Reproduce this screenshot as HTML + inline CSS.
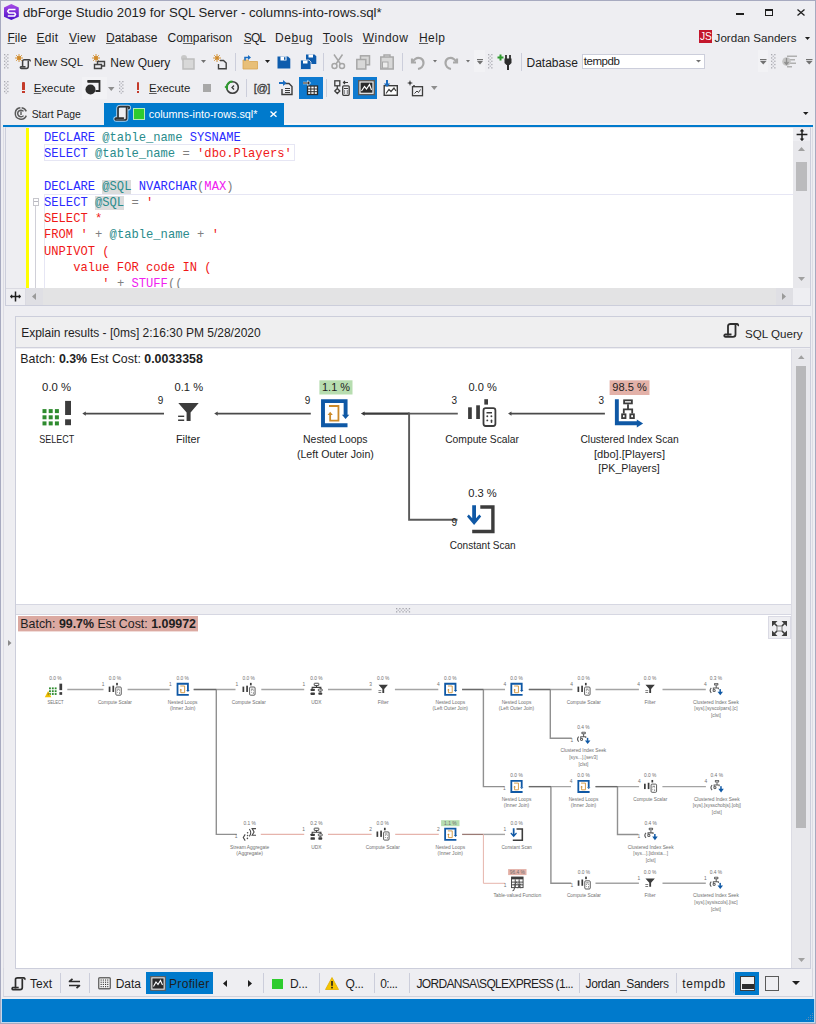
<!DOCTYPE html>
<html><head><meta charset="utf-8">
<style>
*{box-sizing:border-box}
html,body{margin:0;padding:0}
body{width:816px;height:1024px;background:#EEEEF2;position:relative;overflow:hidden;font-family:"Liberation Sans",sans-serif;color:#1E1E1E}
.a{position:absolute}
.t{position:absolute;white-space:pre;line-height:1}
.m{font-family:"Liberation Mono",monospace}
u{text-decoration:underline;text-decoration-color:#5A5A5A;text-underline-offset:0.5px;text-decoration-thickness:1px}
svg{position:absolute;overflow:visible}
.kw{color:#2B2BFF}.vr{color:#2A8C8C}.st{color:#F01818}.op{color:#808080}.fn{color:#F020F0}
.hl{background:#DCDCDC}
.sep{position:absolute;width:1px;background:#CCCEDB}
.grip{position:absolute;width:4px;background:repeating-conic-gradient(#C6C6CE 0 25%,transparent 0 50%) 0 0/2px 2px}
</style></head>
<body>

<!-- TITLE BAR -->
<svg style="left:4px;top:4px" width="16" height="17" viewBox="0 0 16 17">
<defs><linearGradient id="lg" x1="0" y1="0" x2="0" y2="1"><stop offset="0" stop-color="#A94BE6"/><stop offset="1" stop-color="#4A10C8"/></linearGradient></defs>
<path d="M7.3 0 L14.8 3.4 L14.8 12.7 L7.3 16.1 L0 12.7 L0 3.4 Z" fill="url(#lg)"/>
<path d="M11.5 5.5 H5 L3.8 7.3 L5 9 H10.6 L11.5 10.4 L10.6 12 H3.8" fill="none" stroke="#fff" stroke-width="1.6"/>
</svg>
<div class="t" style="left:23px;top:5.8px;font-size:13.2px;color:#1E1E1E">dbForge Studio 2019 for SQL Server - columns-into-rows.sql*</div>
<div class="a" style="left:736px;top:12.5px;width:7.5px;height:2px;background:#1E1E1E"></div>
<div class="a" style="left:765px;top:9px;width:8px;height:7px;border:1px solid #1E1E1E;border-top-width:2px"></div>
<svg style="left:796.5px;top:8.5px" width="8" height="7"><path d="M0.5 0.5 L7.5 6.5 M7.5 0.5 L0.5 6.5" stroke="#1E1E1E" stroke-width="1.3"/></svg>

<!-- MENU -->
<div class="t" style="top:31.7px;font-size:12px;left:0"><span class="a" style="left:7.5px"><u>F</u>ile</span><span class="a" style="left:36.5px;letter-spacing:0.33px"><u>E</u>dit</span><span class="a" style="left:69px;letter-spacing:0.23px"><u>V</u>iew</span><span class="a" style="left:106px"><u>D</u>atabase</span><span class="a" style="left:167.5px">Co<u>m</u>parison</span><span class="a" style="left:243.8px;letter-spacing:-0.9px"><u>S</u>QL</span><span class="a" style="left:275px;letter-spacing:0.57px">De<u>b</u>ug</span><span class="a" style="left:322.8px;letter-spacing:0.5px"><u>T</u>ools</span><span class="a" style="left:362.8px;letter-spacing:0.48px"><u>W</u>indow</span><span class="a" style="left:419px;letter-spacing:0.43px"><u>H</u>elp</span></div>
<div class="a" style="left:698.5px;top:30px;width:13px;height:13px;background:#C4172C"></div>
<div class="t" style="left:700px;top:31.6px;font-size:10.2px;color:#fff;letter-spacing:-0.1px">JS</div>
<div class="t" style="left:714.6px;top:31.8px;font-size:11.6px">Jordan Sanders</div>
<svg style="left:804.5px;top:36.5px" width="5" height="3"><path d="M0 0H5L2.5 3Z" fill="#1E1E1E"/></svg>

<!-- TOOLBARS placeholder -->
<!-- toolbar row 1 -->
<svg style="left:4.0px;top:54.0px" width="5" height="15.0"><rect x="0" y="0.0" width="1.3" height="1.3" fill="#A9A9B0"/><rect x="3.2" y="0.0" width="1.3" height="1.3" fill="#A9A9B0"/><rect x="1.6" y="1.6" width="1.3" height="1.3" fill="#B8B8C0"/><rect x="0" y="3.3" width="1.3" height="1.3" fill="#A9A9B0"/><rect x="3.2" y="3.3" width="1.3" height="1.3" fill="#A9A9B0"/><rect x="1.6" y="4.9" width="1.3" height="1.3" fill="#B8B8C0"/><rect x="0" y="6.6" width="1.3" height="1.3" fill="#A9A9B0"/><rect x="3.2" y="6.6" width="1.3" height="1.3" fill="#A9A9B0"/><rect x="1.6" y="8.2" width="1.3" height="1.3" fill="#B8B8C0"/><rect x="0" y="9.9" width="1.3" height="1.3" fill="#A9A9B0"/><rect x="3.2" y="9.9" width="1.3" height="1.3" fill="#A9A9B0"/><rect x="1.6" y="11.5" width="1.3" height="1.3" fill="#B8B8C0"/><rect x="0" y="13.2" width="1.3" height="1.3" fill="#A9A9B0"/><rect x="3.2" y="13.2" width="1.3" height="1.3" fill="#A9A9B0"/></svg>
<svg style="left:15px;top:54px" width="17" height="16" viewBox="0 0 17 16">
<g fill="#D08A2A"><circle cx="4" cy="4" r="2"/><path d="M4 0V8M0 4H8M1.2 1.2L6.8 6.8M6.8 1.2L1.2 6.8" stroke="#D08A2A" stroke-width="0.9"/></g>
<path d="M7.6 13V7.6C7.6 6.4 8.2 5.8 9.4 5.8H14.2C15 5.8 15.4 6.6 15 7.4" fill="none" stroke="#424242" stroke-width="1.5"/><path d="M13.3 6.6V12.6C13.3 13.8 12.6 14.4 11.4 14.4H6.3C5.2 14.4 5 13.1 6 12.7H10.5" fill="none" stroke="#424242" stroke-width="1.5"/>
</svg>
<div class="t" style="left:34px;top:57.4px;font-size:11.5px">New SQL</div>
<svg style="left:92px;top:54px" width="14" height="16" viewBox="0 0 14 16">
<g><circle cx="4" cy="4" r="2" fill="#D08A2A"/><path d="M4 0V8M0 4H8M1.2 1.2L6.8 6.8M6.8 1.2L1.2 6.8" stroke="#D08A2A" stroke-width="0.9"/></g>
<path d="M2.5 10.5H9.5V14.5H2.5ZM5.5 10.5V7.5H12.5V12H9.5" fill="none" stroke="#424242" stroke-width="1.4"/>
</svg>
<div class="t" style="left:110.3px;top:57.4px;font-size:12px">New Query</div>
<svg style="left:179px;top:54px" width="17" height="16" viewBox="0 0 17 16">
<circle cx="5" cy="4" r="3" fill="#C8C8C8"/><rect x="4" y="5" width="11" height="10" fill="#D8D8D8" stroke="#BDBDBD" stroke-width="1.5"/>
</svg>
<svg style="left:201px;top:60px" width="5" height="3"><path d="M0 0H5L2.5 3Z" fill="#717171"/></svg>
<svg style="left:213px;top:54px" width="15" height="16" viewBox="0 0 15 16">
<circle cx="4" cy="4" r="1.8" fill="#D08A2A"/><path d="M4 0V8M0 4H8M1.2 1.2L6.8 6.8M6.8 1.2L1.2 6.8" stroke="#D08A2A" stroke-width="0.9"/>
<path d="M7 6.5H10.5L13.2 9V14.8H5.5V10" fill="none" stroke="#424242" stroke-width="1.4"/>
</svg>
<div class="sep" style="left:235px;top:53px;height:18px"></div>
<svg style="left:242px;top:54px" width="17" height="16" viewBox="0 0 17 16">
<path d="M1 6H6L7.5 7.5H15.5V15H1Z" fill="#E8BF78" stroke="#D8A450" stroke-width="0.8"/>
<path d="M3 6.5V3.5H7" fill="none" stroke="#1B6DC1" stroke-width="1.6"/><path d="M6 1L9 3.5L6 6Z" fill="#1B6DC1"/>
</svg>
<svg style="left:265px;top:60px" width="5" height="3"><path d="M0 0H5L2.5 3Z" fill="#1E1E1E"/></svg>
<svg style="left:277px;top:56px" width="14" height="13" viewBox="0 0 14 13">
<path d="M0.5 0.5H11L13.3 2.8V12.5H0.5Z" fill="#0E5CAD"/><rect x="3.5" y="0.5" width="6" height="4" fill="#fff"/><rect x="7" y="1.2" width="1.5" height="2.6" fill="#0E5CAD"/>
</svg>
<svg style="left:300px;top:54px" width="17" height="16" viewBox="0 0 17 16">
<path d="M6 0.5H14.5L16.3 2.3V10H6Z" fill="#0E5CAD"/><rect x="8.5" y="0.5" width="4.5" height="3" fill="#fff"/>
<path d="M0.5 6H9L11 8V15.5H0.5Z" fill="#0E5CAD" stroke="#EEEEF2" stroke-width="0.8"/><rect x="3" y="6.5" width="4.5" height="3" fill="#fff"/>
</svg>
<div class="sep" style="left:323px;top:53px;height:18px"></div>
<svg style="left:331px;top:54px" width="15" height="16" viewBox="0 0 15 16">
<g fill="none" stroke="#A6A6A6" stroke-width="1.5"><circle cx="3.5" cy="12" r="2.5"/><circle cx="11" cy="12" r="2.5"/><path d="M5 10L11.5 0.5M9.5 10L3 0.5"/></g>
</svg>
<svg style="left:356px;top:55px" width="15" height="15" viewBox="0 0 15 15">
<rect x="4.5" y="0.8" width="9" height="9" fill="#D8D8D8" stroke="#A8A8A8" stroke-width="1.5"/><rect x="0.8" y="4.5" width="9" height="9.5" fill="#D8D8D8" stroke="#A8A8A8" stroke-width="1.5"/>
</svg>
<svg style="left:380px;top:54px" width="14" height="16" viewBox="0 0 14 16">
<path d="M4 3V1H10V3" fill="none" stroke="#A8A8A8" stroke-width="1.4"/><rect x="0.8" y="3" width="12.4" height="12" fill="#D8D8D8" stroke="#A8A8A8" stroke-width="1.5"/><rect x="2.5" y="8" width="5.5" height="6" fill="#ECECEC" stroke="#A8A8A8"/>
</svg>
<div class="sep" style="left:402px;top:53px;height:18px"></div>
<svg style="left:410px;top:55px" width="15" height="15" viewBox="0 0 15 15">
<path d="M2 3.5V7.5H6M2 7L5.5 3.8C8.5 1.5 13.5 3.5 13.5 8C13.5 11 11 13.5 8 14" fill="none" stroke="#A8A8A8" stroke-width="2.2"/>
</svg>
<svg style="left:432.5px;top:60px" width="4" height="3"><path d="M0 0H4L2 2.5Z" fill="#717171"/></svg>
<svg style="left:444px;top:55px" width="15" height="15" viewBox="0 0 15 15">
<path d="M13 3.5V7.5H9M13 7L9.5 3.8C6.5 1.5 1.5 3.5 1.5 8C1.5 11 4 13.5 7 14" fill="none" stroke="#A8A8A8" stroke-width="2.2"/>
</svg>
<svg style="left:466px;top:60px" width="4" height="3"><path d="M0 0H4L2 2.5Z" fill="#717171"/></svg>
<div class="a" style="left:474px;top:50px;width:11px;height:22px;background:#F2F2F5"></div>
<svg style="left:476.5px;top:58.5px" width="6" height="6"><rect x="0" y="0" width="6" height="1.2" fill="#717171"/><path d="M0 2H6L3 5.5Z" fill="#717171"/></svg>
<svg style="left:487.5px;top:54.0px" width="5" height="15.0"><rect x="0" y="0.0" width="1.3" height="1.3" fill="#A9A9B0"/><rect x="3.2" y="0.0" width="1.3" height="1.3" fill="#A9A9B0"/><rect x="1.6" y="1.6" width="1.3" height="1.3" fill="#B8B8C0"/><rect x="0" y="3.3" width="1.3" height="1.3" fill="#A9A9B0"/><rect x="3.2" y="3.3" width="1.3" height="1.3" fill="#A9A9B0"/><rect x="1.6" y="4.9" width="1.3" height="1.3" fill="#B8B8C0"/><rect x="0" y="6.6" width="1.3" height="1.3" fill="#A9A9B0"/><rect x="3.2" y="6.6" width="1.3" height="1.3" fill="#A9A9B0"/><rect x="1.6" y="8.2" width="1.3" height="1.3" fill="#B8B8C0"/><rect x="0" y="9.9" width="1.3" height="1.3" fill="#A9A9B0"/><rect x="3.2" y="9.9" width="1.3" height="1.3" fill="#A9A9B0"/><rect x="1.6" y="11.5" width="1.3" height="1.3" fill="#B8B8C0"/><rect x="0" y="13.2" width="1.3" height="1.3" fill="#A9A9B0"/><rect x="3.2" y="13.2" width="1.3" height="1.3" fill="#A9A9B0"/></svg>
<svg style="left:498px;top:54px" width="17" height="16" viewBox="0 0 17 16">
<path d="M2.5 0.5V6.5M-0.5 3.5H5.5" stroke="#2F9A2F" stroke-width="2"/>
<path d="M8 1V5M12 1V5" stroke="#2D2D2D" stroke-width="1.8"/><path d="M6.5 4.5H13.5V9L11.5 11H8.5L6.5 9Z" fill="#2D2D2D"/><path d="M10 10.5V16" stroke="#2D2D2D" stroke-width="2"/>
</svg>
<div class="sep" style="left:520.5px;top:53px;height:18px"></div>
<div class="t" style="left:526.5px;top:57.2px;font-size:12px">Database</div>
<div class="a" style="left:582px;top:54px;width:123px;height:15px;background:#fff;border:1px solid #CCCEDB"></div>
<div class="t" style="left:583.8px;top:55.6px;font-size:11.5px;letter-spacing:-0.45px">tempdb</div>
<svg style="left:696px;top:59.7px" width="5" height="3"><path d="M0 0H5L2.5 2.5Z" fill="#717171"/></svg>
<div class="a" style="left:757.5px;top:50px;width:10.5px;height:22px;background:#F2F2F5"></div>
<svg style="left:760px;top:59px" width="6.5" height="6"><rect x="0" y="0" width="6.5" height="1.2" fill="#717171"/><path d="M0 2H6.5L3.25 5.5Z" fill="#717171"/></svg>
<svg style="left:771.0px;top:54.0px" width="5" height="15.0"><rect x="0" y="0.0" width="1.3" height="1.3" fill="#A9A9B0"/><rect x="3.2" y="0.0" width="1.3" height="1.3" fill="#A9A9B0"/><rect x="1.6" y="1.6" width="1.3" height="1.3" fill="#B8B8C0"/><rect x="0" y="3.3" width="1.3" height="1.3" fill="#A9A9B0"/><rect x="3.2" y="3.3" width="1.3" height="1.3" fill="#A9A9B0"/><rect x="1.6" y="4.9" width="1.3" height="1.3" fill="#B8B8C0"/><rect x="0" y="6.6" width="1.3" height="1.3" fill="#A9A9B0"/><rect x="3.2" y="6.6" width="1.3" height="1.3" fill="#A9A9B0"/><rect x="1.6" y="8.2" width="1.3" height="1.3" fill="#B8B8C0"/><rect x="0" y="9.9" width="1.3" height="1.3" fill="#A9A9B0"/><rect x="3.2" y="9.9" width="1.3" height="1.3" fill="#A9A9B0"/><rect x="1.6" y="11.5" width="1.3" height="1.3" fill="#B8B8C0"/><rect x="0" y="13.2" width="1.3" height="1.3" fill="#A9A9B0"/><rect x="3.2" y="13.2" width="1.3" height="1.3" fill="#A9A9B0"/></svg>
<svg style="left:782px;top:55px" width="16" height="14" viewBox="0 0 16 14">
<g fill="#B0B0B0"><rect x="5" y="0.5" width="10" height="1.5"/><rect x="8" y="4" width="5" height="1.5"/><rect x="8" y="7.5" width="6" height="1.5"/><rect x="5" y="11" width="5" height="1.5"/><circle cx="4.5" cy="6.5" r="4.3" fill="#C4C4C4"/></g><path d="M4.5 3V9M2.5 7L4.5 9.5L6.5 7" stroke="#8E8E8E" stroke-width="1.3" fill="none"/>
</svg>
<svg style="left:805.5px;top:59px" width="6.5" height="6"><rect x="0" y="0" width="6.5" height="1.2" fill="#717171"/><path d="M0 2H6.5L3.25 5.5Z" fill="#717171"/></svg>

<!-- toolbar row 2 -->
<svg style="left:4.0px;top:80.5px" width="5" height="14.0"><rect x="0" y="0.0" width="1.3" height="1.3" fill="#A9A9B0"/><rect x="3.2" y="0.0" width="1.3" height="1.3" fill="#A9A9B0"/><rect x="1.6" y="1.6" width="1.3" height="1.3" fill="#B8B8C0"/><rect x="0" y="3.3" width="1.3" height="1.3" fill="#A9A9B0"/><rect x="3.2" y="3.3" width="1.3" height="1.3" fill="#A9A9B0"/><rect x="1.6" y="4.9" width="1.3" height="1.3" fill="#B8B8C0"/><rect x="0" y="6.6" width="1.3" height="1.3" fill="#A9A9B0"/><rect x="3.2" y="6.6" width="1.3" height="1.3" fill="#A9A9B0"/><rect x="1.6" y="8.2" width="1.3" height="1.3" fill="#B8B8C0"/><rect x="0" y="9.9" width="1.3" height="1.3" fill="#A9A9B0"/><rect x="3.2" y="9.9" width="1.3" height="1.3" fill="#A9A9B0"/><rect x="1.6" y="11.5" width="1.3" height="1.3" fill="#B8B8C0"/></svg>
<div class="a" style="left:22px;top:82.2px;width:2.5px;height:7.5px;background:#C43A2A;border-radius:1px 1px 0.5px 0.5px"></div>
<div class="a" style="left:22px;top:90.8px;width:2.5px;height:2.2px;background:#C43A2A"></div>
<div class="t" style="left:33.8px;top:83px;font-size:11.4px"><u>E</u>xecute</div>
<div class="a" style="left:82px;top:76.5px;width:25px;height:22px;background:#F2F2F5"></div>
<svg style="left:85px;top:80px" width="16" height="15" viewBox="0 0 16 15">
<path d="M2.5 1H14.5V11H10.5" fill="none" stroke="#2D2D2D" stroke-width="1.8"/><rect x="2.5" y="0.5" width="12" height="2.3" fill="#2D2D2D"/><circle cx="5.5" cy="9.5" r="5" fill="#2D2D2D"/>
</svg>
<svg style="left:108px;top:86.5px" width="7" height="5"><path d="M0 0H6.5L3.25 4Z" fill="#8E8E8E"/></svg>
<svg style="left:119.0px;top:80.5px" width="5" height="14.0"><rect x="0" y="0.0" width="1.3" height="1.3" fill="#A9A9B0"/><rect x="3.2" y="0.0" width="1.3" height="1.3" fill="#A9A9B0"/><rect x="1.6" y="1.6" width="1.3" height="1.3" fill="#B8B8C0"/><rect x="0" y="3.3" width="1.3" height="1.3" fill="#A9A9B0"/><rect x="3.2" y="3.3" width="1.3" height="1.3" fill="#A9A9B0"/><rect x="1.6" y="4.9" width="1.3" height="1.3" fill="#B8B8C0"/><rect x="0" y="6.6" width="1.3" height="1.3" fill="#A9A9B0"/><rect x="3.2" y="6.6" width="1.3" height="1.3" fill="#A9A9B0"/><rect x="1.6" y="8.2" width="1.3" height="1.3" fill="#B8B8C0"/><rect x="0" y="9.9" width="1.3" height="1.3" fill="#A9A9B0"/><rect x="3.2" y="9.9" width="1.3" height="1.3" fill="#A9A9B0"/><rect x="1.6" y="11.5" width="1.3" height="1.3" fill="#B8B8C0"/></svg>
<div class="a" style="left:136.5px;top:82.2px;width:2.5px;height:7.5px;background:#C43A2A;border-radius:1px 1px 0.5px 0.5px"></div>
<div class="a" style="left:136.5px;top:90.8px;width:2.5px;height:2.2px;background:#C43A2A"></div>
<div class="t" style="left:149.1px;top:83px;font-size:11.4px"><u>E</u>xecute</div>
<div class="a" style="left:203.3px;top:83.8px;width:8px;height:8.4px;background:#A8A8A8"></div>
<svg style="left:223.5px;top:80px" width="16" height="15" viewBox="0 0 16 15">
<circle cx="8.5" cy="7.5" r="5.8" fill="none" stroke="#3C3C3C" stroke-width="1.6"/><path d="M1 6.5H5.5" stroke="#EEEEF2" stroke-width="3"/>
<path d="M0.5 7L4 3.5L4 10.5Z" fill="#2F9A2F"/><path d="M3 7C3 3 6 1.5 8.5 1.5" fill="none" stroke="#2F9A2F" stroke-width="2"/><path d="M10 5.5L8 7.5L10 9.5" fill="none" stroke="#3C3C3C" stroke-width="1.3"/>
</svg>
<div class="sep" style="left:246px;top:79px;height:18px"></div>
<div class="t" style="left:253.8px;top:82.6px;font-size:11.2px;color:#3A3A3A;letter-spacing:-0.5px;-webkit-text-stroke:0.3px #3A3A3A">[@]</div>
<svg style="left:279px;top:80px" width="14" height="15" viewBox="0 0 14 15">
<path d="M4 3.5H10L13 6.5V14.5H3V9" fill="none" stroke="#3C3C3C" stroke-width="1.4"/><path d="M6 8.5H11M6 10.5H11M6 12.5H11" stroke="#3C3C3C" stroke-width="1"/>
<path d="M0 3H4.5" stroke="#1B6DC1" stroke-width="2"/><path d="M4 0L7.5 3L4 6Z" fill="#1B6DC1"/>
</svg>
<div class="a" style="left:298.7px;top:76.7px;width:24.3px;height:22px;background:#0E7AD0"></div>
<svg style="left:303px;top:80px" width="16" height="16" viewBox="0 0 16 16">
<rect x="4.5" y="6" width="10" height="8.5" fill="#fff" stroke="#2D2D2D" stroke-width="1.3"/><path d="M4.5 9H14.5M4.5 11.7H14.5M7.8 6V14.5M11.2 6V14.5" stroke="#2D2D2D" stroke-width="1"/>
<path d="M0 3H5" stroke="#fff" stroke-width="2.4"/><path d="M4.5 0L8 3L4.5 6Z" fill="#fff"/><path d="M0 3H5" stroke="#2D2D2D" stroke-width="1.2"/><path d="M5 1L7 3L5 5Z" fill="#2D2D2D"/>
</svg>
<div class="sep" style="left:326.3px;top:79px;height:18px"></div>
<svg style="left:333.5px;top:80px" width="16" height="16" viewBox="0 0 16 16">
<rect x="0.8" y="0.8" width="5" height="5" fill="none" stroke="#3C3C3C" stroke-width="1.3"/><path d="M3.3 6V8.5M0.8 11L3.3 8.5L5.8 11L3.3 13.5Z" fill="none" stroke="#3C3C3C" stroke-width="1.3"/>
<rect x="8.7" y="5.8" width="6.5" height="9.5" rx="1" fill="none" stroke="#3C3C3C" stroke-width="1.3"/><path d="M10 8.5H14M10 11H11M12.8 11H14M10 13H11M12.8 13H14" stroke="#3C3C3C"/><path d="M14 2.5H9.5M11 1L9.5 2.5L11 4" fill="none" stroke="#3C3C3C" stroke-width="1.2"/>
</svg>
<div class="a" style="left:353.3px;top:76.7px;width:24.2px;height:22px;background:#0E7AD0"></div>
<svg style="left:357.5px;top:80.2px" width="17" height="15.3" viewBox="0 0 17 15.3">
<rect x="0.7" y="0.7" width="15.6" height="13.9" fill="#F0F0F0" stroke="#5A5A5A" stroke-width="1.4"/><rect x="2.6" y="2.6" width="11.8" height="10.1" fill="#2A2A2A"/><path d="M3.5 11L6.5 6.5L8.5 9L11.5 4.5L13.5 10" fill="none" stroke="#fff" stroke-width="1.2"/>
</svg>
<svg style="left:383px;top:80px" width="15" height="16" viewBox="0 0 15 16">
<rect x="1.2" y="5.7" width="13.1" height="9.6" fill="#fff" stroke="#3C3C3C" stroke-width="1.4"/><path d="M3 13.5L6 9.5L8 11.5L11 8L13 11" fill="none" stroke="#3C3C3C" stroke-width="1.2"/>
<path d="M4 0V5" stroke="#1B6DC1" stroke-width="2"/><path d="M0.8 3.5L4 7L7.2 3.5Z" fill="#1B6DC1"/>
</svg>
<svg style="left:406.5px;top:80px" width="16" height="16" viewBox="0 0 16 16">
<path d="M3 0L3.8 2.2L6 3L3.8 3.8L3 6L2.2 3.8L0 3L2.2 2.2Z" fill="#3C3C3C"/><circle cx="7" cy="6" r="1" fill="#3C3C3C"/>
<rect x="5.5" y="6.7" width="10" height="9" fill="none" stroke="#3C3C3C" stroke-width="1.3"/><path d="M7.5 13.5L10 11L11.5 12.5L13.5 9.5" fill="none" stroke="#3C3C3C" stroke-width="1"/>
</svg>
<svg style="left:430.5px;top:85.5px" width="7" height="5"><path d="M0 0H6.5L3.25 4Z" fill="#8E8E8E"/></svg>


<!-- TABS -->
<svg style="left:14px;top:107px" width="14" height="13" viewBox="0 0 14 13"><path d="M7.60 0.83A5.7 5.7 0 0 1 12.28 4.36M12.28 8.64A5.7 5.7 0 1 1 6.40 0.83M9.53 8.62A3.3 3.3 0 1 1 9.53 4.38" fill="none" stroke="#5A5A5A" stroke-width="1.5"/><path d="M7 8.0V4.3" stroke="#5A5A5A" stroke-width="1.4"/></svg>
<div class="t" style="left:31.7px;top:109.5px;font-size:10.4px">Start Page</div>
<div class="a" style="left:104.4px;top:103px;width:179.6px;height:23px;background:#007ACC"></div>
<svg style="left:114px;top:105px" width="17" height="16" viewBox="0 0 17 16">
<g fill="none" stroke-linecap="round" stroke-linejoin="round">
<path d="M4 13V3.6C4 2.2 5 1.6 6.4 1.6H14C15.4 1.6 15.8 3 14.8 3.6M12.6 2.6V13.2C12.6 14.4 11.8 15 10.4 15H2.2C1 15 0.7 13.4 2 13.1H9.4" stroke="#A8D0F0" stroke-width="3.6"/>
<path d="M5 3H12V14H5Z" fill="#EEEEF2" stroke="none"/>
<path d="M4 13V3.6C4 2.2 5 1.6 6.4 1.6H14C15.4 1.6 15.8 3 14.8 3.6M12.6 2.6V13.2C12.6 14.4 11.8 15 10.4 15H2.2C1 15 0.7 13.4 2 13.1H9.4" stroke="#333" stroke-width="1.7"/>
</g></svg>
<div class="a" style="left:133.1px;top:108px;width:11.8px;height:11.9px;background:#2ECC2E;border:1px solid #B8ECB8"></div>
<div class="t" style="left:148.8px;top:109px;font-size:10.8px;color:#fff">columns-into-rows.sql*</div>
<svg style="left:269.5px;top:111px" width="7" height="6.2"><path d="M0.5 0.5L6.5 5.7M6.5 0.5L0.5 5.7" stroke="#fff" stroke-width="1.4"/></svg>
<svg style="left:802.5px;top:112.3px" width="5.5" height="3"><path d="M0 0H5.5L2.75 3Z" fill="#1E1E1E"/></svg>
<div class="a" style="left:3.3px;top:125px;width:809.5px;height:1.6px;background:#007ACC"></div>
<div class="a" style="left:284px;top:123.3px;width:528px;height:1.5px;background:#F4F4F7"></div>


<!-- EDITOR -->
<div class="a" style="left:3px;top:126.6px;width:1px;height:870px;background:#DCDCE4"></div>
<div class="a" style="left:812px;top:126.6px;width:1px;height:870px;background:#DCDCE4"></div>
<div class="a" style="left:5px;top:126.6px;width:806px;height:179.4px;border:1px solid #CCCEDB;border-top:1px solid #E4E4EC;background:#fff"></div>
<div class="a" style="left:6px;top:127.6px;width:20px;height:160.3px;background:#EEEEF2"></div>
<div class="a" style="left:26px;top:127.6px;width:3.3px;height:160.3px;background:#FFFF00"></div>
<!-- fold marker -->
<div class="a" style="left:32.5px;top:198px;width:6.5px;height:7.5px;border:1px solid #C6C6CC;background:#fff"></div>
<div class="a" style="left:34px;top:201.3px;width:3.5px;height:1px;background:#B8B8C0"></div>
<div class="a" style="left:35.2px;top:205.5px;width:1px;height:82.4px;background:#D0D0D8"></div>
<!-- current line boxes -->
<div class="a" style="left:44px;top:144.3px;width:251px;height:17px;border:1px solid #E6E6F4"></div>
<div class="a" style="left:44px;top:193.5px;width:749.3px;height:94.4px;border:1px solid #E6E6F4;border-bottom:none;border-right:none"></div>
<!-- code -->
<div class="t m" style="left:44px;top:129.9px;font-size:12.15px;line-height:16.27px"><span class="kw">DECLARE</span> <span class="vr">@table_name</span> <span class="kw">SYSNAME</span>
<span class="kw">SELECT</span> <span class="vr">@table_name</span> <span class="op">=</span> <span class="st">'dbo.Players'</span>

<span class="kw">DECLARE</span> <span class="vr hl">@SQL</span> <span class="kw">NVARCHAR</span><span class="op">(</span><span class="fn">MAX</span><span class="op">)</span>
<span class="kw">SELECT</span> <span class="vr hl">@SQL</span> <span class="op">=</span> <span class="st">'</span>
<span class="st">SELECT *</span>
<span class="st">FROM '</span> <span class="op">+</span> <span class="vr">@table_name</span> <span class="op">+</span> <span class="st">'</span>
<span class="st">UNPIVOT (</span>
<span class="st">    value FOR code IN (</span>
<span class="st">        '</span> <span class="op">+</span> <span class="fn">STUFF</span><span class="op">((</span></div>
<!-- editor vscroll -->
<div class="a" style="left:793.3px;top:127.6px;width:16.9px;height:160.3px;background:#E8E8EC"></div>
<div class="a" style="left:793.3px;top:127.6px;width:16.9px;height:13px;background:#EEEEF2"></div>
<svg style="left:795.8px;top:128.5px" width="12" height="12" viewBox="0 0 12 12"><path d="M6 0.8V11.2M0.6 5.5H11.4" stroke="#1E1E1E" stroke-width="1.5"/><path d="M4.3 2.2L6 0.3L7.7 2.2ZM4.3 9.8L6 11.7L7.7 9.8Z" fill="#1E1E1E" stroke="#1E1E1E" stroke-width="0.6"/></svg>
<svg style="left:798px;top:147px" width="7" height="4"><path d="M0 4H7L3.5 0Z" fill="#A0A0A0"/></svg>
<div class="a" style="left:796.4px;top:161.8px;width:10.5px;height:29px;background:#BBBBBD"></div>
<svg style="left:798px;top:277px" width="7" height="4"><path d="M0 0H7L3.5 4Z" fill="#A0A0A0"/></svg>
<!-- hscroll -->
<div class="a" style="left:6px;top:287.9px;width:20px;height:17.4px;background:#EEEEF2;border-top:1px solid #DADAE2;border-right:1px solid #DADAE2"></div>
<svg style="left:9.8px;top:291px" width="11" height="11" viewBox="0 0 11 11"><path d="M5.5 0.6V10.4M0.6 5.5H10.4" stroke="#1E1E1E" stroke-width="1.5"/><path d="M2 3.8L0.2 5.5L2 7.2ZM9 3.8L10.8 5.5L9 7.2Z" fill="#1E1E1E" stroke="#1E1E1E" stroke-width="0.6"/></svg>
<div class="a" style="left:26px;top:287.9px;width:767.3px;height:17.4px;background:#DFDFE4"></div>
<div class="a" style="left:43px;top:287.9px;width:733px;height:17.4px;background:#E3E3E4"></div>
<svg style="left:32px;top:293px" width="4" height="7"><path d="M4 0V7L0 3.5Z" fill="#9A9A9A"/></svg>
<svg style="left:782.2px;top:293.2px" width="4" height="7"><path d="M0 0V7L4 3.5Z" fill="#9A9A9A"/></svg>
<div class="a" style="left:793.3px;top:287.9px;width:16.9px;height:17.4px;background:#EEEEF2"></div>

<!-- EXPLAIN -->
<!--EXPLAIN_START-->
<div class="a" style="left:15px;top:316px;width:796px;height:652.5px;border:1px solid #CCCEDB;background:#EEEEF2"></div>
<div class="a" style="left:16px;top:317px;width:794px;height:30.5px;background:#EFEFF0"></div>
<div class="t" style="left:21.2px;top:327.2px;font-size:12px">Explain results - [0ms] 2:16:30 PM 5/28/2020</div>
<svg style="left:723px;top:322.5px" width="17" height="16" viewBox="0 0 17 16"><path d="M5 12.5V3C5 1.5 6 1 7.5 1H14C15 1 15.5 2 15 3" fill="none" stroke="#2D2D2D" stroke-width="1.8"/><path d="M12.5 2V11.5C12.5 13 11.5 13.8 10 13.8H2.5C1 13.8 0.8 12 2 11.5H8.5" fill="none" stroke="#2D2D2D" stroke-width="1.8"/></svg>
<div class="t" style="left:745px;top:327.8px;font-size:11.6px">SQL Query</div>
<div class="a" style="left:16px;top:347.4px;width:794px;height:1px;background:#D0D1DC"></div>
<div class="a" style="left:16px;top:348.5px;width:775px;height:255.5px;background:#fff"></div>
<div class="a" style="left:16px;top:603.5px;width:775px;height:1.2px;background:#D6D7E2"></div>
<div class="a" style="left:16px;top:614px;width:775px;height:1.2px;background:#D6D7E2"></div>
<div class="a" style="left:16px;top:615.2px;width:775px;height:352.8px;background:#fff"></div>
<svg style="left:396px;top:607.6px" width="15" height="5"><rect x="0.0" y="0" width="1.3" height="1.3" fill="#A4A4AC"/><rect x="0.0" y="3.2" width="1.3" height="1.3" fill="#A4A4AC"/><rect x="1.6" y="1.6" width="1.3" height="1.3" fill="#B8B8C0"/><rect x="3.2" y="0" width="1.3" height="1.3" fill="#A4A4AC"/><rect x="3.2" y="3.2" width="1.3" height="1.3" fill="#A4A4AC"/><rect x="4.8" y="1.6" width="1.3" height="1.3" fill="#B8B8C0"/><rect x="6.4" y="0" width="1.3" height="1.3" fill="#A4A4AC"/><rect x="6.4" y="3.2" width="1.3" height="1.3" fill="#A4A4AC"/><rect x="8.0" y="1.6" width="1.3" height="1.3" fill="#B8B8C0"/><rect x="9.6" y="0" width="1.3" height="1.3" fill="#A4A4AC"/><rect x="9.6" y="3.2" width="1.3" height="1.3" fill="#A4A4AC"/><rect x="11.2" y="1.6" width="1.3" height="1.3" fill="#B8B8C0"/><rect x="12.8" y="0" width="1.3" height="1.3" fill="#A4A4AC"/><rect x="12.8" y="3.2" width="1.3" height="1.3" fill="#A4A4AC"/></svg>
<div class="a" style="left:791px;top:348.5px;width:19px;height:619.5px;background:#E8E8EC"></div>
<div class="a" style="left:791px;top:348.5px;width:1.2px;height:619.5px;background:#DCDCE4"></div>
<svg style="left:797.5px;top:354.5px" width="7" height="4"><path d="M0 4H6.5L3.25 0.3Z" fill="#A0A0A0"/></svg>
<div class="a" style="left:796px;top:365.5px;width:10px;height:462.5px;background:#B8B8BA"></div>
<svg style="left:797.5px;top:957.5px" width="7" height="4"><path d="M0 0H7L3.5 4Z" fill="#A0A0A0"/></svg>
<div class="a" style="left:768px;top:616.3px;width:22.7px;height:22.3px;background:#EEEEF2;border:1px solid #DADAE4"></div>
<svg style="left:772px;top:620.5px" width="15" height="15" viewBox="0 0 15 15"><rect x="5" y="5" width="5" height="5" fill="none" stroke="#8A8A8A" stroke-width="1.2"/>
<g fill="#3C3C3C"><path d="M0 0H5.5L0 5.5Z"/><path d="M15 0H9.5L15 5.5Z"/><path d="M0 15H5.5L0 9.5Z"/><path d="M15 15H9.5L15 9.5Z"/></g>
<path d="M1.5 1.5L5 5M13.5 1.5L10 5M1.5 13.5L5 10M13.5 13.5L10 10" stroke="#3C3C3C" stroke-width="1.6"/></svg>
<svg style="left:8px;top:639.5px" width="3.5" height="6"><path d="M0 0V6L3.5 3Z" fill="#8A8A8A"/></svg>
<svg style="left:0;top:0" width="816" height="1024">
<text x="20.3" y="362.8" font-size="12.4" font-family="Liberation Sans" fill="#1E1E1E">Batch: <tspan font-weight="bold">0.3%</tspan> Est Cost: <tspan font-weight="bold">0.0033358</tspan></text>
<path d="M84.8 413.6H164" stroke="#4A4A4A" stroke-width="1.7"/><path d="M82.3 413.6L85.8 411.5V415.70000000000005Z" fill="#4A4A4A"/>
<path d="M216.7 413.6H310.8" stroke="#4A4A4A" stroke-width="1.7"/><path d="M214.2 413.6L217.7 411.5V415.70000000000005Z" fill="#4A4A4A"/>
<path d="M363.4 413.6H409.2" stroke="#3A3A3A" stroke-width="2.2"/><path d="M360.9 413.6L364.6 411.40000000000003V415.8Z" fill="#3A3A3A"/>
<path d="M409.2 413.6H457.8" stroke="#5A5A5A" stroke-width="1.6"/>
<path d="M409.1 412.6V519.7H457.5" fill="none" stroke="#5A5A5A" stroke-width="1.9"/>
<path d="M510.5 413.6H604.9" stroke="#4A4A4A" stroke-width="1.7"/><path d="M508 413.6L511.5 411.5V415.70000000000005Z" fill="#4A4A4A"/>
<text x="157.80" y="403.60" font-size="10" font-family="Liberation Sans" fill="#1E1E1E" text-anchor="start">9</text>
<text x="304.80" y="403.60" font-size="10" font-family="Liberation Sans" fill="#1E1E1E" text-anchor="start">9</text>
<text x="451.60" y="403.60" font-size="10" font-family="Liberation Sans" fill="#1E1E1E" text-anchor="start">3</text>
<text x="451.40" y="526.40" font-size="10" font-family="Liberation Sans" fill="#1E1E1E" text-anchor="start">9</text>
<text x="598.40" y="403.60" font-size="10" font-family="Liberation Sans" fill="#1E1E1E" text-anchor="start">3</text>
<g transform="translate(42,399)"><rect x="0.5" y="10.1" width="4" height="4" fill="#2E8B2E"/><rect x="0.5" y="16.3" width="4" height="4" fill="#2E8B2E"/><rect x="0.5" y="22.4" width="4" height="4" fill="#2E8B2E"/><rect x="6.7" y="10.1" width="4" height="4" fill="#2E8B2E"/><rect x="6.7" y="16.3" width="4" height="4" fill="#2E8B2E"/><rect x="6.7" y="22.4" width="4" height="4" fill="#2E8B2E"/><rect x="12.9" y="10.1" width="4" height="4" fill="#2E8B2E"/><rect x="12.9" y="16.3" width="4" height="4" fill="#2E8B2E"/><rect x="12.9" y="22.4" width="4" height="4" fill="#2E8B2E"/><rect x="23.1" y="1.9" width="5.9" height="14.1" fill="#3C3C3C"/><rect x="23.1" y="20.3" width="5.9" height="5.9" fill="#3C3C3C"/></g>
<g transform="translate(178,399)"><path d="M0.3 4.1H20.7L12.6 13.6V22H8.6V13.6Z" fill="#3C3C3C"/><rect x="0.1" y="16.6" width="6.1" height="1.4" fill="#3C3C3C"/><rect x="0.1" y="20.5" width="6.1" height="1.5" fill="#3C3C3C"/></g>
<g transform="translate(321,399)"><path d="M24.6 16V2.1H2V26.3H26.5" fill="none" stroke="#0F58A5" stroke-width="3.9"/><path d="M20.9 15.8H28.3L24.6 20Z" fill="#0F58A5"/><path d="M9.15 15V21.6H17.45V7H8" fill="none" stroke="#CC8A2A" stroke-width="1.8"/><path d="M6.6 16H11.8L9.2 12.8Z" fill="#CC8A2A"/></g>
<g transform="translate(467,399)"><rect x="1.1" y="8.3" width="3.7" height="11.7" fill="#3C3C3C"/><rect x="9.2" y="6.3" width="3.7" height="13.7" fill="#3C3C3C"/><rect x="17.3" y="0.2" width="3.7" height="5.4" fill="#3C3C3C"/><rect x="16.5" y="9.2" width="11.9" height="17.8" rx="2.2" fill="#fff" stroke="#3C3C3C" stroke-width="1.8"/><rect x="19.5" y="13" width="5.5" height="1.5" fill="#3C3C3C"/><circle cx="20.3" cy="17.3" r="0.95" fill="#3C3C3C"/><circle cx="24.4" cy="17.3" r="0.95" fill="#3C3C3C"/><circle cx="20.3" cy="21.4" r="0.95" fill="#3C3C3C"/><rect x="23.7" y="20.5" width="1.6" height="3.5" rx="0.8" fill="#3C3C3C"/></g>
<g transform="translate(614,399)"><path d="M2.85 0.2V24.3H23.5" fill="none" stroke="#0F58A5" stroke-width="3.9"/><path d="M22.8 20.4V28.4L29.1 24.4Z" fill="#0F58A5"/><rect x="10.1" y="1.3" width="7.8" height="3.1" fill="none" stroke="#3C3C3C" stroke-width="1.8"/><path d="M14 5.3V10.3M9.8 14.4V10.3H18.2V14.4" fill="none" stroke="#3C3C3C" stroke-width="1.8"/><rect x="8.1" y="15.3" width="3.4" height="3.8" fill="none" stroke="#3C3C3C" stroke-width="1.8"/><rect x="16.3" y="15.3" width="3.6" height="3.8" fill="none" stroke="#3C3C3C" stroke-width="1.8"/></g>
<g transform="translate(467,504)"><path d="M13.3 3H25.9V27.45H5.2" fill="none" stroke="#3C3C3C" stroke-width="3.4"/><path d="M5.2 1.3H9V14.2L12.4 10.6L14.2 12.6L7.1 20.9L0 12.6L1.8 10.6L5.2 14.2Z" fill="#0F58A5"/></g>
<rect x="319.4" y="380.3" width="33.1" height="14.2" fill="#B7DDB0"/>
<rect x="609.6" y="380.3" width="39.9" height="14.7" fill="#E3B1A8"/>
<text x="56.60" y="390.80" font-size="10.6" font-family="Liberation Sans" fill="#1E1E1E" text-anchor="middle" textLength="29" lengthAdjust="spacingAndGlyphs">0.0 %</text>
<text x="188.80" y="390.80" font-size="10.6" font-family="Liberation Sans" fill="#1E1E1E" text-anchor="middle" textLength="28.5" lengthAdjust="spacingAndGlyphs">0.1 %</text>
<text x="336.00" y="390.80" font-size="10.6" font-family="Liberation Sans" fill="#1E1E1E" text-anchor="middle" textLength="28" lengthAdjust="spacingAndGlyphs">1.1 %</text>
<text x="482.60" y="390.80" font-size="10.6" font-family="Liberation Sans" fill="#1E1E1E" text-anchor="middle" textLength="28.3" lengthAdjust="spacingAndGlyphs">0.0 %</text>
<text x="629.50" y="390.80" font-size="10.6" font-family="Liberation Sans" fill="#1E1E1E" text-anchor="middle" textLength="34.5" lengthAdjust="spacingAndGlyphs">98.5 %</text>
<text x="482.50" y="497.10" font-size="10.6" font-family="Liberation Sans" fill="#1E1E1E" text-anchor="middle" textLength="28.6" lengthAdjust="spacingAndGlyphs">0.3 %</text>
<text x="56.70" y="443.00" font-size="10.4" font-family="Liberation Sans" fill="#1E1E1E" text-anchor="middle" textLength="35" lengthAdjust="spacingAndGlyphs">SELECT</text>
<text x="188.00" y="443.00" font-size="10.4" font-family="Liberation Sans" fill="#1E1E1E" text-anchor="middle" textLength="24" lengthAdjust="spacingAndGlyphs">Filter</text>
<text x="335.30" y="443.00" font-size="10.4" font-family="Liberation Sans" fill="#1E1E1E" text-anchor="middle" textLength="64.6" lengthAdjust="spacingAndGlyphs">Nested Loops</text>
<text x="335.40" y="458.20" font-size="10.4" font-family="Liberation Sans" fill="#1E1E1E" text-anchor="middle" textLength="77" lengthAdjust="spacingAndGlyphs">(Left Outer Join)</text>
<text x="482.10" y="443.00" font-size="10.4" font-family="Liberation Sans" fill="#1E1E1E" text-anchor="middle" textLength="73.8" lengthAdjust="spacingAndGlyphs">Compute Scalar</text>
<text x="629.60" y="443.00" font-size="10.4" font-family="Liberation Sans" fill="#1E1E1E" text-anchor="middle" textLength="98.3" lengthAdjust="spacingAndGlyphs">Clustered Index Scan</text>
<text x="629.50" y="458.20" font-size="10.4" font-family="Liberation Sans" fill="#1E1E1E" text-anchor="middle" textLength="71" lengthAdjust="spacingAndGlyphs">[dbo].[Players]</text>
<text x="629.00" y="471.50" font-size="10.4" font-family="Liberation Sans" fill="#1E1E1E" text-anchor="middle" textLength="61.3" lengthAdjust="spacingAndGlyphs">[PK_Players]</text>
<text x="482.70" y="548.90" font-size="10.4" font-family="Liberation Sans" fill="#1E1E1E" text-anchor="middle" textLength="66" lengthAdjust="spacingAndGlyphs">Constant Scan</text>
<rect x="18" y="616" width="180" height="15.4" fill="#DBA9A1"/>
<text x="20.3" y="628.2" font-size="12.4" font-family="Liberation Sans" fill="#1E1E1E">Batch: <tspan font-weight="bold">99.7%</tspan> Est Cost: <tspan font-weight="bold">1.09972</tspan></text>
<path d="M67.3 689.5H103.5" fill="none" stroke="#A4A4A4" stroke-width="1.4"/>
<path d="M127.6 689.5H169.7" fill="none" stroke="#A4A4A4" stroke-width="1.4"/>
<path d="M193.7 689.5H235.5" fill="none" stroke="#A4A4A4" stroke-width="1.4"/>
<path d="M261.3 689.5H304.2" fill="none" stroke="#A4A4A4" stroke-width="1.4"/>
<path d="M328 689.5H371.6" fill="none" stroke="#A4A4A4" stroke-width="1.4"/>
<path d="M394.9 689.5H438.3" fill="none" stroke="#A4A4A4" stroke-width="1.4"/>
<path d="M462.1 689.5H505" fill="none" stroke="#A4A4A4" stroke-width="1.4"/>
<path d="M528.8 689.5H572.4" fill="none" stroke="#A4A4A4" stroke-width="1.4"/>
<path d="M595.5 689.5H638.9" fill="none" stroke="#A4A4A4" stroke-width="1.4"/>
<path d="M662.5 689.5H705.8" fill="none" stroke="#A4A4A4" stroke-width="1.4"/>
<path d="M528.8 786.6H571" fill="none" stroke="#A4A4A4" stroke-width="1.4"/>
<path d="M595.5 786.6H639.1" fill="none" stroke="#A4A4A4" stroke-width="1.4"/>
<path d="M662.4 786.6H705.9" fill="none" stroke="#A4A4A4" stroke-width="1.4"/>
<path d="M595.5 883.3H638.9" fill="none" stroke="#A4A4A4" stroke-width="1.4"/>
<path d="M662.5 883.3H705.8" fill="none" stroke="#A4A4A4" stroke-width="1.4"/>
<path d="M483.4 834.4H505" fill="none" stroke="#A4A4A4" stroke-width="1.4"/>
<path d="M216.3 689.5V834.4H236.8" fill="none" stroke="#909090" stroke-width="1.4"/>
<path d="M483.4 689.5V786.6H504.3" fill="none" stroke="#909090" stroke-width="1.4"/>
<path d="M550.3 689.5V738.3H571.7" fill="none" stroke="#909090" stroke-width="1.4"/>
<path d="M550.9 786.6V883.3H571.2" fill="none" stroke="#909090" stroke-width="1.4"/>
<path d="M617.5 786.6V834.5H638.2" fill="none" stroke="#909090" stroke-width="1.4"/>
<path d="M193.7 689.5H216.3" fill="none" stroke="#6A6A6A" stroke-width="1.3"/>
<path d="M462.1 689.5H483.4" fill="none" stroke="#6A6A6A" stroke-width="1.3"/>
<path d="M528.8 689.5H550.3" fill="none" stroke="#6A6A6A" stroke-width="1.3"/>
<path d="M528.8 786.6H550.9" fill="none" stroke="#6A6A6A" stroke-width="1.3"/>
<path d="M595.5 786.6H617.5" fill="none" stroke="#6A6A6A" stroke-width="1.3"/>
<path d="M260.8 834.4H304.2" fill="none" stroke="#E6B4AC" stroke-width="1.1"/>
<path d="M328 834.4H371.6" fill="none" stroke="#E6B4AC" stroke-width="1.1"/>
<path d="M395.2 834.4H438.8" fill="none" stroke="#E6B4AC" stroke-width="1.1"/>
<path d="M462.1 834.4H483.4" fill="none" stroke="#9A7A74" stroke-width="1.3"/>
<path d="M483.4 834.4V883.3H505" fill="none" stroke="#E6B4AC" stroke-width="1.0"/>
<g transform="translate(48.8,682.78) scale(0.46)"><rect x="0.5" y="10.1" width="4" height="4" fill="#2E8B2E"/><rect x="0.5" y="16.3" width="4" height="4" fill="#2E8B2E"/><rect x="0.5" y="22.4" width="4" height="4" fill="#2E8B2E"/><rect x="6.7" y="10.1" width="4" height="4" fill="#2E8B2E"/><rect x="6.7" y="16.3" width="4" height="4" fill="#2E8B2E"/><rect x="6.7" y="22.4" width="4" height="4" fill="#2E8B2E"/><rect x="12.9" y="10.1" width="4" height="4" fill="#2E8B2E"/><rect x="12.9" y="16.3" width="4" height="4" fill="#2E8B2E"/><rect x="12.9" y="22.4" width="4" height="4" fill="#2E8B2E"/><rect x="23.1" y="1.9" width="5.9" height="14.1" fill="#3C3C3C"/><rect x="23.1" y="20.3" width="5.9" height="5.9" fill="#3C3C3C"/></g>
<path d="M44.8 697.184L48.099999999999994 691.084L51.4 697.184Z" fill="#F2C200"/><rect x="47.8" y="692.784" width="0.7" height="2.5" fill="#6A5A20"/>
<text x="55.47" y="680.28" font-size="4.85" font-family="Liberation Sans" fill="#707070" text-anchor="middle">0.0 %</text>
<text x="55.47" y="703.67" font-size="4.85" font-family="Liberation Sans" fill="#707070" text-anchor="middle" textLength="16.1" lengthAdjust="spacingAndGlyphs">SELECT</text>
<g transform="translate(108.2,682.78) scale(0.46)"><rect x="1.1" y="8.3" width="3.7" height="11.7" fill="#3C3C3C"/><rect x="9.2" y="6.3" width="3.7" height="13.7" fill="#3C3C3C"/><rect x="17.3" y="0.2" width="3.7" height="5.4" fill="#3C3C3C"/><rect x="16.5" y="9.2" width="11.9" height="17.8" rx="2.2" fill="#fff" stroke="#3C3C3C" stroke-width="1.8"/><rect x="19.5" y="13" width="5.5" height="1.5" fill="#3C3C3C"/><circle cx="20.3" cy="17.3" r="0.95" fill="#3C3C3C"/><circle cx="24.4" cy="17.3" r="0.95" fill="#3C3C3C"/><circle cx="20.3" cy="21.4" r="0.95" fill="#3C3C3C"/><rect x="23.7" y="20.5" width="1.6" height="3.5" rx="0.8" fill="#3C3C3C"/></g>
<text x="114.94" y="680.28" font-size="4.85" font-family="Liberation Sans" fill="#707070" text-anchor="middle">0.0 %</text>
<text x="114.94" y="703.67" font-size="4.85" font-family="Liberation Sans" fill="#707070" text-anchor="middle" textLength="34" lengthAdjust="spacingAndGlyphs">Compute Scalar</text>
<g transform="translate(176.6,682.78) scale(0.46)"><path d="M24.6 16V2.1H2V26.3H26.5" fill="none" stroke="#0F58A5" stroke-width="3.9"/><path d="M20.9 15.8H28.3L24.6 20Z" fill="#0F58A5"/><path d="M9.15 15V21.6H17.45V7H8" fill="none" stroke="#CC8A2A" stroke-width="1.8"/><path d="M6.6 16H11.8L9.2 12.8Z" fill="#CC8A2A"/></g>
<text x="182.69" y="680.28" font-size="4.85" font-family="Liberation Sans" fill="#707070" text-anchor="middle">0.0 %</text>
<text x="182.69" y="703.67" font-size="4.85" font-family="Liberation Sans" fill="#707070" text-anchor="middle" textLength="29.7" lengthAdjust="spacingAndGlyphs">Nested Loops</text>
<text x="182.69" y="710.37" font-size="4.85" font-family="Liberation Sans" fill="#707070" text-anchor="middle" textLength="25.5" lengthAdjust="spacingAndGlyphs">(Inner Join)</text>
<g transform="translate(242.0,682.78) scale(0.46)"><rect x="1.1" y="8.3" width="3.7" height="11.7" fill="#3C3C3C"/><rect x="9.2" y="6.3" width="3.7" height="13.7" fill="#3C3C3C"/><rect x="17.3" y="0.2" width="3.7" height="5.4" fill="#3C3C3C"/><rect x="16.5" y="9.2" width="11.9" height="17.8" rx="2.2" fill="#fff" stroke="#3C3C3C" stroke-width="1.8"/><rect x="19.5" y="13" width="5.5" height="1.5" fill="#3C3C3C"/><circle cx="20.3" cy="17.3" r="0.95" fill="#3C3C3C"/><circle cx="24.4" cy="17.3" r="0.95" fill="#3C3C3C"/><circle cx="20.3" cy="21.4" r="0.95" fill="#3C3C3C"/><rect x="23.7" y="20.5" width="1.6" height="3.5" rx="0.8" fill="#3C3C3C"/></g>
<text x="248.74" y="680.28" font-size="4.85" font-family="Liberation Sans" fill="#707070" text-anchor="middle">0.0 %</text>
<text x="248.74" y="703.67" font-size="4.85" font-family="Liberation Sans" fill="#707070" text-anchor="middle" textLength="34" lengthAdjust="spacingAndGlyphs">Compute Scalar</text>
<g transform="translate(310.3,682.78) scale(0.46)"><rect x="8.5" y="1" width="10" height="5" rx="1" fill="none" stroke="#3C3C3C" stroke-width="2"/><path d="M13.5 6V9M4 14V10H23V14" fill="none" stroke="#3C3C3C" stroke-width="2.2"/><rect x="0.5" y="13" width="9.5" height="5" rx="1.5" fill="#3C3C3C"/><rect x="0.5" y="21" width="9.5" height="5.5" rx="1.5" fill="#3C3C3C"/><rect x="17.5" y="13.5" width="8.5" height="4.5" rx="1.5" fill="none" stroke="#3C3C3C" stroke-width="2"/><rect x="17.5" y="21" width="8.5" height="5" rx="1.5" fill="#3C3C3C"/><path d="M21.5 18V21" stroke="#3C3C3C" stroke-width="2"/></g>
<text x="316.40" y="680.28" font-size="4.85" font-family="Liberation Sans" fill="#707070" text-anchor="middle">0.0 %</text>
<text x="316.40" y="703.67" font-size="4.85" font-family="Liberation Sans" fill="#707070" text-anchor="middle" textLength="10.3" lengthAdjust="spacingAndGlyphs">UDX</text>
<g transform="translate(378.4,682.78) scale(0.46)"><path d="M0.3 4.1H20.7L12.6 13.6V22H8.6V13.6Z" fill="#3C3C3C"/><rect x="0.1" y="16.6" width="6.1" height="1.4" fill="#3C3C3C"/><rect x="0.1" y="20.5" width="6.1" height="1.5" fill="#3C3C3C"/></g>
<text x="383.16" y="680.28" font-size="4.85" font-family="Liberation Sans" fill="#707070" text-anchor="middle">0.0 %</text>
<text x="383.16" y="703.67" font-size="4.85" font-family="Liberation Sans" fill="#707070" text-anchor="middle" textLength="11" lengthAdjust="spacingAndGlyphs">Filter</text>
<g transform="translate(444.2,682.78) scale(0.46)"><path d="M24.6 16V2.1H2V26.3H26.5" fill="none" stroke="#0F58A5" stroke-width="3.9"/><path d="M20.9 15.8H28.3L24.6 20Z" fill="#0F58A5"/><path d="M9.15 15V21.6H17.45V7H8" fill="none" stroke="#CC8A2A" stroke-width="1.8"/><path d="M6.6 16H11.8L9.2 12.8Z" fill="#CC8A2A"/></g>
<text x="450.30" y="680.28" font-size="4.85" font-family="Liberation Sans" fill="#707070" text-anchor="middle">0.0 %</text>
<text x="450.30" y="703.67" font-size="4.85" font-family="Liberation Sans" fill="#707070" text-anchor="middle" textLength="29.7" lengthAdjust="spacingAndGlyphs">Nested Loops</text>
<text x="450.30" y="710.37" font-size="4.85" font-family="Liberation Sans" fill="#707070" text-anchor="middle" textLength="35.4" lengthAdjust="spacingAndGlyphs">(Left Outer Join)</text>
<g transform="translate(510.4,682.78) scale(0.46)"><path d="M24.6 16V2.1H2V26.3H26.5" fill="none" stroke="#0F58A5" stroke-width="3.9"/><path d="M20.9 15.8H28.3L24.6 20Z" fill="#0F58A5"/><path d="M9.15 15V21.6H17.45V7H8" fill="none" stroke="#CC8A2A" stroke-width="1.8"/><path d="M6.6 16H11.8L9.2 12.8Z" fill="#CC8A2A"/></g>
<text x="516.50" y="680.28" font-size="4.85" font-family="Liberation Sans" fill="#707070" text-anchor="middle">0.0 %</text>
<text x="516.50" y="703.67" font-size="4.85" font-family="Liberation Sans" fill="#707070" text-anchor="middle" textLength="29.7" lengthAdjust="spacingAndGlyphs">Nested Loops</text>
<text x="516.50" y="710.37" font-size="4.85" font-family="Liberation Sans" fill="#707070" text-anchor="middle" textLength="35.4" lengthAdjust="spacingAndGlyphs">(Left Outer Join)</text>
<g transform="translate(577.0,682.78) scale(0.46)"><rect x="1.1" y="8.3" width="3.7" height="11.7" fill="#3C3C3C"/><rect x="9.2" y="6.3" width="3.7" height="13.7" fill="#3C3C3C"/><rect x="17.3" y="0.2" width="3.7" height="5.4" fill="#3C3C3C"/><rect x="16.5" y="9.2" width="11.9" height="17.8" rx="2.2" fill="#fff" stroke="#3C3C3C" stroke-width="1.8"/><rect x="19.5" y="13" width="5.5" height="1.5" fill="#3C3C3C"/><circle cx="20.3" cy="17.3" r="0.95" fill="#3C3C3C"/><circle cx="24.4" cy="17.3" r="0.95" fill="#3C3C3C"/><circle cx="20.3" cy="21.4" r="0.95" fill="#3C3C3C"/><rect x="23.7" y="20.5" width="1.6" height="3.5" rx="0.8" fill="#3C3C3C"/></g>
<text x="583.74" y="680.28" font-size="4.85" font-family="Liberation Sans" fill="#707070" text-anchor="middle">0.0 %</text>
<text x="583.74" y="703.67" font-size="4.85" font-family="Liberation Sans" fill="#707070" text-anchor="middle" textLength="34" lengthAdjust="spacingAndGlyphs">Compute Scalar</text>
<g transform="translate(645.3,682.78) scale(0.46)"><path d="M0.3 4.1H20.7L12.6 13.6V22H8.6V13.6Z" fill="#3C3C3C"/><rect x="0.1" y="16.6" width="6.1" height="1.4" fill="#3C3C3C"/><rect x="0.1" y="20.5" width="6.1" height="1.5" fill="#3C3C3C"/></g>
<text x="650.06" y="680.28" font-size="4.85" font-family="Liberation Sans" fill="#707070" text-anchor="middle">0.0 %</text>
<text x="650.06" y="703.67" font-size="4.85" font-family="Liberation Sans" fill="#707070" text-anchor="middle" textLength="11" lengthAdjust="spacingAndGlyphs">Filter</text>
<g transform="translate(710.0,682.78) scale(0.46)"><rect x="8.8" y="0.3" width="9.4" height="5.4" rx="1.6" fill="#5A5A5A"/><rect x="10.8" y="2" width="5.4" height="2" fill="#C8C8C8"/><path d="M13.5 5.5V11.3M7.2 15V11.3H18.2V14" fill="none" stroke="#5A5A5A" stroke-width="2.2"/><path d="M2.8 11.2C-0.2 14.5 -0.2 18.8 2.8 22" fill="none" stroke="#5A5A5A" stroke-width="2.5"/><circle cx="9" cy="16.8" r="2.4" fill="none" stroke="#5A5A5A" stroke-width="2.2"/><rect x="20.5" y="13.7" width="3.2" height="6.5" fill="#0F58A5"/><path d="M16.3 19.3H28.3L22.3 27.2Z" fill="#0F58A5"/></g>
<text x="715.98" y="680.28" font-size="4.85" font-family="Liberation Sans" fill="#707070" text-anchor="middle">0.3 %</text>
<text x="715.98" y="703.67" font-size="4.85" font-family="Liberation Sans" fill="#707070" text-anchor="middle" textLength="45.8" lengthAdjust="spacingAndGlyphs">Clustered Index Seek</text>
<text x="715.98" y="710.37" font-size="4.85" font-family="Liberation Sans" fill="#707070" text-anchor="middle">[sys].[syscolpars].[c]</text>
<text x="715.98" y="717.07" font-size="4.85" font-family="Liberation Sans" fill="#707070" text-anchor="middle">[clst]</text>
<g transform="translate(577.4,731.58) scale(0.46)"><rect x="8.8" y="0.3" width="9.4" height="5.4" rx="1.6" fill="#5A5A5A"/><rect x="10.8" y="2" width="5.4" height="2" fill="#C8C8C8"/><path d="M13.5 5.5V11.3M7.2 15V11.3H18.2V14" fill="none" stroke="#5A5A5A" stroke-width="2.2"/><path d="M2.8 11.2C-0.2 14.5 -0.2 18.8 2.8 22" fill="none" stroke="#5A5A5A" stroke-width="2.5"/><circle cx="9" cy="16.8" r="2.4" fill="none" stroke="#5A5A5A" stroke-width="2.2"/><rect x="20.5" y="13.7" width="3.2" height="6.5" fill="#0F58A5"/><path d="M16.3 19.3H28.3L22.3 27.2Z" fill="#0F58A5"/></g>
<text x="583.38" y="729.08" font-size="4.85" font-family="Liberation Sans" fill="#707070" text-anchor="middle">0.4 %</text>
<text x="583.38" y="752.47" font-size="4.85" font-family="Liberation Sans" fill="#707070" text-anchor="middle" textLength="45.8" lengthAdjust="spacingAndGlyphs">Clustered Index Seek</text>
<text x="583.38" y="759.17" font-size="4.85" font-family="Liberation Sans" fill="#707070" text-anchor="middle">[sys...].[sev3]</text>
<text x="583.38" y="765.87" font-size="4.85" font-family="Liberation Sans" fill="#707070" text-anchor="middle">[clst]</text>
<g transform="translate(510.4,779.88) scale(0.46)"><path d="M24.6 16V2.1H2V26.3H26.5" fill="none" stroke="#0F58A5" stroke-width="3.9"/><path d="M20.9 15.8H28.3L24.6 20Z" fill="#0F58A5"/><path d="M9.15 15V21.6H17.45V7H8" fill="none" stroke="#CC8A2A" stroke-width="1.8"/><path d="M6.6 16H11.8L9.2 12.8Z" fill="#CC8A2A"/></g>
<text x="516.50" y="777.38" font-size="4.85" font-family="Liberation Sans" fill="#707070" text-anchor="middle">0.0 %</text>
<text x="516.50" y="800.77" font-size="4.85" font-family="Liberation Sans" fill="#707070" text-anchor="middle" textLength="29.7" lengthAdjust="spacingAndGlyphs">Nested Loops</text>
<text x="516.50" y="807.47" font-size="4.85" font-family="Liberation Sans" fill="#707070" text-anchor="middle" textLength="25.5" lengthAdjust="spacingAndGlyphs">(Inner Join)</text>
<g transform="translate(577.4,779.88) scale(0.46)"><path d="M24.6 16V2.1H2V26.3H26.5" fill="none" stroke="#0F58A5" stroke-width="3.9"/><path d="M20.9 15.8H28.3L24.6 20Z" fill="#0F58A5"/><path d="M9.15 15V21.6H17.45V7H8" fill="none" stroke="#CC8A2A" stroke-width="1.8"/><path d="M6.6 16H11.8L9.2 12.8Z" fill="#CC8A2A"/></g>
<text x="583.50" y="777.38" font-size="4.85" font-family="Liberation Sans" fill="#707070" text-anchor="middle">0.0 %</text>
<text x="583.50" y="800.77" font-size="4.85" font-family="Liberation Sans" fill="#707070" text-anchor="middle" textLength="29.7" lengthAdjust="spacingAndGlyphs">Nested Loops</text>
<text x="583.50" y="807.47" font-size="4.85" font-family="Liberation Sans" fill="#707070" text-anchor="middle" textLength="25.5" lengthAdjust="spacingAndGlyphs">(Inner Join)</text>
<g transform="translate(643.5,779.88) scale(0.46)"><rect x="1.1" y="8.3" width="3.7" height="11.7" fill="#3C3C3C"/><rect x="9.2" y="6.3" width="3.7" height="13.7" fill="#3C3C3C"/><rect x="17.3" y="0.2" width="3.7" height="5.4" fill="#3C3C3C"/><rect x="16.5" y="9.2" width="11.9" height="17.8" rx="2.2" fill="#fff" stroke="#3C3C3C" stroke-width="1.8"/><rect x="19.5" y="13" width="5.5" height="1.5" fill="#3C3C3C"/><circle cx="20.3" cy="17.3" r="0.95" fill="#3C3C3C"/><circle cx="24.4" cy="17.3" r="0.95" fill="#3C3C3C"/><circle cx="20.3" cy="21.4" r="0.95" fill="#3C3C3C"/><rect x="23.7" y="20.5" width="1.6" height="3.5" rx="0.8" fill="#3C3C3C"/></g>
<text x="650.24" y="777.38" font-size="4.85" font-family="Liberation Sans" fill="#707070" text-anchor="middle">0.0 %</text>
<text x="650.24" y="800.77" font-size="4.85" font-family="Liberation Sans" fill="#707070" text-anchor="middle" textLength="34" lengthAdjust="spacingAndGlyphs">Compute Scalar</text>
<g transform="translate(710.8,779.88) scale(0.46)"><rect x="8.8" y="0.3" width="9.4" height="5.4" rx="1.6" fill="#5A5A5A"/><rect x="10.8" y="2" width="5.4" height="2" fill="#C8C8C8"/><path d="M13.5 5.5V11.3M7.2 15V11.3H18.2V14" fill="none" stroke="#5A5A5A" stroke-width="2.2"/><path d="M2.8 11.2C-0.2 14.5 -0.2 18.8 2.8 22" fill="none" stroke="#5A5A5A" stroke-width="2.5"/><circle cx="9" cy="16.8" r="2.4" fill="none" stroke="#5A5A5A" stroke-width="2.2"/><rect x="20.5" y="13.7" width="3.2" height="6.5" fill="#0F58A5"/><path d="M16.3 19.3H28.3L22.3 27.2Z" fill="#0F58A5"/></g>
<text x="716.78" y="777.38" font-size="4.85" font-family="Liberation Sans" fill="#707070" text-anchor="middle">0.4 %</text>
<text x="716.78" y="800.77" font-size="4.85" font-family="Liberation Sans" fill="#707070" text-anchor="middle" textLength="45.8" lengthAdjust="spacingAndGlyphs">Clustered Index Seek</text>
<text x="716.78" y="807.47" font-size="4.85" font-family="Liberation Sans" fill="#707070" text-anchor="middle">[sys].[sysschobjs].[obj]</text>
<text x="716.78" y="814.17" font-size="4.85" font-family="Liberation Sans" fill="#707070" text-anchor="middle">[clst]</text>
<g transform="translate(242.9,827.68) scale(0.46)"><path d="M5 14.5L0.8 21.3L5 28.2" fill="none" stroke="#4A4A4A" stroke-width="2.4"/><circle cx="10.2" cy="11" r="1.7" fill="#4A4A4A"/><circle cx="10.2" cy="17.2" r="1.7" fill="#4A4A4A"/><circle cx="9.8" cy="23.3" r="1.7" fill="#4A4A4A"/><path d="M14 3C17.8 8 17.8 14 14 18.8" fill="none" stroke="#4A4A4A" stroke-width="2.2"/><path d="M28.5 2H20L24.3 9.3L20 16.6H28.5" fill="none" stroke="#4A4A4A" stroke-width="2.4"/></g>
<text x="249.69" y="825.18" font-size="4.85" font-family="Liberation Sans" fill="#707070" text-anchor="middle">0.1 %</text>
<text x="249.69" y="848.57" font-size="4.85" font-family="Liberation Sans" fill="#707070" text-anchor="middle" textLength="39.2" lengthAdjust="spacingAndGlyphs">Stream Aggregate</text>
<text x="249.69" y="855.27" font-size="4.85" font-family="Liberation Sans" fill="#707070" text-anchor="middle" textLength="26.7" lengthAdjust="spacingAndGlyphs">(Aggregate)</text>
<g transform="translate(310.3,827.68) scale(0.46)"><rect x="8.5" y="1" width="10" height="5" rx="1" fill="none" stroke="#3C3C3C" stroke-width="2"/><path d="M13.5 6V9M4 14V10H23V14" fill="none" stroke="#3C3C3C" stroke-width="2.2"/><rect x="0.5" y="13" width="9.5" height="5" rx="1.5" fill="#3C3C3C"/><rect x="0.5" y="21" width="9.5" height="5.5" rx="1.5" fill="#3C3C3C"/><rect x="17.5" y="13.5" width="8.5" height="4.5" rx="1.5" fill="none" stroke="#3C3C3C" stroke-width="2"/><rect x="17.5" y="21" width="8.5" height="5" rx="1.5" fill="#3C3C3C"/><path d="M21.5 18V21" stroke="#3C3C3C" stroke-width="2"/></g>
<text x="316.40" y="825.18" font-size="4.85" font-family="Liberation Sans" fill="#707070" text-anchor="middle">0.2 %</text>
<text x="316.40" y="848.57" font-size="4.85" font-family="Liberation Sans" fill="#707070" text-anchor="middle" textLength="10.3" lengthAdjust="spacingAndGlyphs">UDX</text>
<g transform="translate(376.0,827.68) scale(0.46)"><rect x="1.1" y="8.3" width="3.7" height="11.7" fill="#3C3C3C"/><rect x="9.2" y="6.3" width="3.7" height="13.7" fill="#3C3C3C"/><rect x="17.3" y="0.2" width="3.7" height="5.4" fill="#3C3C3C"/><rect x="16.5" y="9.2" width="11.9" height="17.8" rx="2.2" fill="#fff" stroke="#3C3C3C" stroke-width="1.8"/><rect x="19.5" y="13" width="5.5" height="1.5" fill="#3C3C3C"/><circle cx="20.3" cy="17.3" r="0.95" fill="#3C3C3C"/><circle cx="24.4" cy="17.3" r="0.95" fill="#3C3C3C"/><circle cx="20.3" cy="21.4" r="0.95" fill="#3C3C3C"/><rect x="23.7" y="20.5" width="1.6" height="3.5" rx="0.8" fill="#3C3C3C"/></g>
<text x="382.74" y="825.18" font-size="4.85" font-family="Liberation Sans" fill="#707070" text-anchor="middle">0.0 %</text>
<text x="382.74" y="848.57" font-size="4.85" font-family="Liberation Sans" fill="#707070" text-anchor="middle" textLength="34" lengthAdjust="spacingAndGlyphs">Compute Scalar</text>
<g transform="translate(444.2,827.68) scale(0.46)"><path d="M24.6 16V2.1H2V26.3H26.5" fill="none" stroke="#0F58A5" stroke-width="3.9"/><path d="M20.9 15.8H28.3L24.6 20Z" fill="#0F58A5"/><path d="M9.15 15V21.6H17.45V7H8" fill="none" stroke="#CC8A2A" stroke-width="1.8"/><path d="M6.6 16H11.8L9.2 12.8Z" fill="#CC8A2A"/></g>
<rect x="441.10" y="820.18" width="18.4" height="6" fill="#B7DDB0"/>
<text x="450.30" y="825.18" font-size="4.85" font-family="Liberation Sans" fill="#707070" text-anchor="middle">1.1 %</text>
<text x="450.30" y="848.57" font-size="4.85" font-family="Liberation Sans" fill="#707070" text-anchor="middle" textLength="29.7" lengthAdjust="spacingAndGlyphs">Nested Loops</text>
<text x="450.30" y="855.27" font-size="4.85" font-family="Liberation Sans" fill="#707070" text-anchor="middle" textLength="25.5" lengthAdjust="spacingAndGlyphs">(Inner Join)</text>
<g transform="translate(510.4,827.68) scale(0.46)"><path d="M13.3 3H25.9V27.45H5.2" fill="none" stroke="#3C3C3C" stroke-width="3.4"/><path d="M5.2 1.3H9V14.2L12.4 10.6L14.2 12.6L7.1 20.9L0 12.6L1.8 10.6L5.2 14.2Z" fill="#0F58A5"/></g>
<text x="516.73" y="825.18" font-size="4.85" font-family="Liberation Sans" fill="#707070" text-anchor="middle">0.0 %</text>
<text x="516.73" y="848.57" font-size="4.85" font-family="Liberation Sans" fill="#707070" text-anchor="middle" textLength="30.4" lengthAdjust="spacingAndGlyphs">Constant Scan</text>
<g transform="translate(644.7,827.68) scale(0.46)"><rect x="8.8" y="0.3" width="9.4" height="5.4" rx="1.6" fill="#5A5A5A"/><rect x="10.8" y="2" width="5.4" height="2" fill="#C8C8C8"/><path d="M13.5 5.5V11.3M7.2 15V11.3H18.2V14" fill="none" stroke="#5A5A5A" stroke-width="2.2"/><path d="M2.8 11.2C-0.2 14.5 -0.2 18.8 2.8 22" fill="none" stroke="#5A5A5A" stroke-width="2.5"/><circle cx="9" cy="16.8" r="2.4" fill="none" stroke="#5A5A5A" stroke-width="2.2"/><rect x="20.5" y="13.7" width="3.2" height="6.5" fill="#0F58A5"/><path d="M16.3 19.3H28.3L22.3 27.2Z" fill="#0F58A5"/></g>
<text x="650.68" y="825.18" font-size="4.85" font-family="Liberation Sans" fill="#707070" text-anchor="middle">0.4 %</text>
<text x="650.68" y="848.57" font-size="4.85" font-family="Liberation Sans" fill="#707070" text-anchor="middle" textLength="45.8" lengthAdjust="spacingAndGlyphs">Clustered Index Seek</text>
<text x="650.68" y="855.27" font-size="4.85" font-family="Liberation Sans" fill="#707070" text-anchor="middle">[sys...].[idxsta...]</text>
<text x="650.68" y="861.97" font-size="4.85" font-family="Liberation Sans" fill="#707070" text-anchor="middle">[clst]</text>
<g transform="translate(511.1,876.58) scale(0.46)"><rect x="1" y="1" width="25" height="23" fill="#fff" stroke="#3C3C3C" stroke-width="2"/><rect x="1" y="1" width="25" height="5" fill="#3C3C3C"/><path d="M1 12H26M1 18H26M9 6V24M17.5 6V24" stroke="#3C3C3C" stroke-width="2"/><path d="M3 31C7 31 7 27 8 22C9 16 9.5 12 13 12" fill="none" stroke="#555" stroke-width="2.2"/><path d="M5 17H12" stroke="#555" stroke-width="2"/><path d="M14 15L22 25M22 15L14 25" stroke="#555" stroke-width="2.2"/></g>
<rect x="508.11" y="869.08" width="18.4" height="6" fill="#E3B1A8"/>
<text x="517.31" y="874.08" font-size="4.85" font-family="Liberation Sans" fill="#707070" text-anchor="middle">96.4 %</text>
<text x="517.31" y="897.47" font-size="4.85" font-family="Liberation Sans" fill="#707070" text-anchor="middle" textLength="47.8" lengthAdjust="spacingAndGlyphs">Table-valued Function</text>
<g transform="translate(577.2,876.58) scale(0.46)"><rect x="1.1" y="8.3" width="3.7" height="11.7" fill="#3C3C3C"/><rect x="9.2" y="6.3" width="3.7" height="13.7" fill="#3C3C3C"/><rect x="17.3" y="0.2" width="3.7" height="5.4" fill="#3C3C3C"/><rect x="16.5" y="9.2" width="11.9" height="17.8" rx="2.2" fill="#fff" stroke="#3C3C3C" stroke-width="1.8"/><rect x="19.5" y="13" width="5.5" height="1.5" fill="#3C3C3C"/><circle cx="20.3" cy="17.3" r="0.95" fill="#3C3C3C"/><circle cx="24.4" cy="17.3" r="0.95" fill="#3C3C3C"/><circle cx="20.3" cy="21.4" r="0.95" fill="#3C3C3C"/><rect x="23.7" y="20.5" width="1.6" height="3.5" rx="0.8" fill="#3C3C3C"/></g>
<text x="583.94" y="874.08" font-size="4.85" font-family="Liberation Sans" fill="#707070" text-anchor="middle">0.0 %</text>
<text x="583.94" y="897.47" font-size="4.85" font-family="Liberation Sans" fill="#707070" text-anchor="middle" textLength="34" lengthAdjust="spacingAndGlyphs">Compute Scalar</text>
<g transform="translate(645.3,876.58) scale(0.46)"><path d="M0.3 4.1H20.7L12.6 13.6V22H8.6V13.6Z" fill="#3C3C3C"/><rect x="0.1" y="16.6" width="6.1" height="1.4" fill="#3C3C3C"/><rect x="0.1" y="20.5" width="6.1" height="1.5" fill="#3C3C3C"/></g>
<text x="650.06" y="874.08" font-size="4.85" font-family="Liberation Sans" fill="#707070" text-anchor="middle">0.0 %</text>
<text x="650.06" y="897.47" font-size="4.85" font-family="Liberation Sans" fill="#707070" text-anchor="middle" textLength="11" lengthAdjust="spacingAndGlyphs">Filter</text>
<g transform="translate(710.0,876.58) scale(0.46)"><rect x="8.8" y="0.3" width="9.4" height="5.4" rx="1.6" fill="#5A5A5A"/><rect x="10.8" y="2" width="5.4" height="2" fill="#C8C8C8"/><path d="M13.5 5.5V11.3M7.2 15V11.3H18.2V14" fill="none" stroke="#5A5A5A" stroke-width="2.2"/><path d="M2.8 11.2C-0.2 14.5 -0.2 18.8 2.8 22" fill="none" stroke="#5A5A5A" stroke-width="2.5"/><circle cx="9" cy="16.8" r="2.4" fill="none" stroke="#5A5A5A" stroke-width="2.2"/><rect x="20.5" y="13.7" width="3.2" height="6.5" fill="#0F58A5"/><path d="M16.3 19.3H28.3L22.3 27.2Z" fill="#0F58A5"/></g>
<text x="715.98" y="874.08" font-size="4.85" font-family="Liberation Sans" fill="#707070" text-anchor="middle">0.4 %</text>
<text x="715.98" y="897.47" font-size="4.85" font-family="Liberation Sans" fill="#707070" text-anchor="middle" textLength="45.8" lengthAdjust="spacingAndGlyphs">Clustered Index Seek</text>
<text x="715.98" y="904.17" font-size="4.85" font-family="Liberation Sans" fill="#707070" text-anchor="middle">[sys].[sysiscols].[isc]</text>
<text x="715.98" y="910.87" font-size="4.85" font-family="Liberation Sans" fill="#707070" text-anchor="middle">[clst]</text>
<text x="101.80" y="686.00" font-size="4.85" font-family="Liberation Sans" fill="#707070" text-anchor="start">1</text>
<text x="168.90" y="686.00" font-size="4.85" font-family="Liberation Sans" fill="#707070" text-anchor="start">1</text>
<text x="235.60" y="686.00" font-size="4.85" font-family="Liberation Sans" fill="#707070" text-anchor="start">1</text>
<text x="302.40" y="686.00" font-size="4.85" font-family="Liberation Sans" fill="#707070" text-anchor="start">1</text>
<text x="369.20" y="686.00" font-size="4.85" font-family="Liberation Sans" fill="#707070" text-anchor="start">3</text>
<text x="437.00" y="686.00" font-size="4.85" font-family="Liberation Sans" fill="#707070" text-anchor="start">4</text>
<text x="503.60" y="686.00" font-size="4.85" font-family="Liberation Sans" fill="#707070" text-anchor="start">4</text>
<text x="570.20" y="686.00" font-size="4.85" font-family="Liberation Sans" fill="#707070" text-anchor="start">4</text>
<text x="637.20" y="686.00" font-size="4.85" font-family="Liberation Sans" fill="#707070" text-anchor="start">4</text>
<text x="704.00" y="686.00" font-size="4.85" font-family="Liberation Sans" fill="#707070" text-anchor="start">4</text>
<text x="570.40" y="741.50" font-size="4.85" font-family="Liberation Sans" fill="#707070" text-anchor="start">1</text>
<text x="503.00" y="789.80" font-size="4.85" font-family="Liberation Sans" fill="#707070" text-anchor="start">1</text>
<text x="569.80" y="783.30" font-size="4.85" font-family="Liberation Sans" fill="#707070" text-anchor="start">4</text>
<text x="638.00" y="783.30" font-size="4.85" font-family="Liberation Sans" fill="#707070" text-anchor="start">4</text>
<text x="704.50" y="783.30" font-size="4.85" font-family="Liberation Sans" fill="#707070" text-anchor="start">4</text>
<text x="234.80" y="837.60" font-size="4.85" font-family="Liberation Sans" fill="#707070" text-anchor="start">1</text>
<text x="302.20" y="831.20" font-size="4.85" font-family="Liberation Sans" fill="#707070" text-anchor="start">1</text>
<text x="369.20" y="831.20" font-size="4.85" font-family="Liberation Sans" fill="#707070" text-anchor="start">2</text>
<text x="437.00" y="831.20" font-size="4.85" font-family="Liberation Sans" fill="#707070" text-anchor="start">2</text>
<text x="503.60" y="831.20" font-size="4.85" font-family="Liberation Sans" fill="#707070" text-anchor="start">1</text>
<text x="637.40" y="837.60" font-size="4.85" font-family="Liberation Sans" fill="#707070" text-anchor="start">1</text>
<text x="503.80" y="886.50" font-size="4.85" font-family="Liberation Sans" fill="#707070" text-anchor="start">1</text>
<text x="570.40" y="886.50" font-size="4.85" font-family="Liberation Sans" fill="#707070" text-anchor="start">1</text>
<text x="637.40" y="880.00" font-size="4.85" font-family="Liberation Sans" fill="#707070" text-anchor="start">1</text>
<text x="704.00" y="880.00" font-size="4.85" font-family="Liberation Sans" fill="#707070" text-anchor="start">1</text>
</svg>
<!--EXPLAIN_END-->

<!-- BOTTOM -->
<!--BOTTOM_START-->
<div class="a" style="left:3.3px;top:968px;width:809.5px;height:29px;background:#EEEEF2;border-left:1px solid #D6D7E0;border-right:1px solid #D6D7E0;border-bottom:1px solid #D0D1DC"></div>
<div class="a" style="left:15px;top:967.5px;width:796px;height:1px;background:#CCCEDB"></div>
<svg style="left:10.5px;top:976.5px" width="15" height="14" viewBox="0 0 15 14"><path d="M4.5 11.5V2.5C4.5 1.3 5.3 0.9 6.6 0.9H12.6C13.6 0.9 14.2 1.8 13.6 2.8" fill="none" stroke="#2D2D2D" stroke-width="1.7"/><path d="M11.3 1.8V10.5C11.3 11.9 10.4 12.6 9 12.6H2.3C0.9 12.6 0.7 11 1.8 10.5H7.7" fill="none" stroke="#2D2D2D" stroke-width="1.7"/></svg>
<div class="t" style="left:30px;top:977.6px;font-size:12px">Text</div>
<div class="sep" style="left:59.5px;top:973px;height:20px"></div>
<svg style="left:68px;top:978px" width="13" height="11" viewBox="0 0 13 11"><path d="M12 3.5H1.5L4.5 0.8" fill="none" stroke="#2D2D2D" stroke-width="1.7" stroke-linejoin="round"/><path d="M1 7.5H11.5L8.5 10.2" fill="none" stroke="#2D2D2D" stroke-width="1.7" stroke-linejoin="round"/></svg>
<div class="sep" style="left:89.3px;top:973px;height:20px"></div>
<svg style="left:98px;top:977.3px" width="13" height="12.5" viewBox="0 0 13 12.5"><rect x="0.7" y="0.7" width="11.6" height="11.1" rx="1" fill="#F4F4F4" stroke="#6A6A6A" stroke-width="1.4"/><rect x="2.6" y="2.5" width="1.1" height="1.1" fill="#333"/><rect x="2.6" y="4.7" width="1.1" height="1.1" fill="#333"/><rect x="2.6" y="6.9" width="1.1" height="1.1" fill="#333"/><rect x="2.6" y="9.1" width="1.1" height="1.1" fill="#333"/><rect x="4.8" y="2.5" width="1.1" height="1.1" fill="#333"/><rect x="4.8" y="4.7" width="1.1" height="1.1" fill="#333"/><rect x="4.8" y="6.9" width="1.1" height="1.1" fill="#333"/><rect x="4.8" y="9.1" width="1.1" height="1.1" fill="#333"/><rect x="7.0" y="2.5" width="1.1" height="1.1" fill="#333"/><rect x="7.0" y="4.7" width="1.1" height="1.1" fill="#333"/><rect x="7.0" y="6.9" width="1.1" height="1.1" fill="#333"/><rect x="7.0" y="9.1" width="1.1" height="1.1" fill="#333"/><rect x="9.2" y="2.5" width="1.1" height="1.1" fill="#333"/><rect x="9.2" y="4.7" width="1.1" height="1.1" fill="#333"/><rect x="9.2" y="6.9" width="1.1" height="1.1" fill="#333"/><rect x="9.2" y="9.1" width="1.1" height="1.1" fill="#333"/></svg>
<div class="t" style="left:115.7px;top:977.6px;font-size:12px">Data</div>
<div class="a" style="left:146px;top:971.9px;width:66.7px;height:22.5px;background:#007ACC"></div>
<svg style="left:150.2px;top:975.5px" width="16" height="15" viewBox="0 0 16 15"><rect x="0.7" y="0.7" width="14.6" height="13.6" fill="#E8E8E8" stroke="#5A5A5A" stroke-width="1.2"/><rect x="2.4" y="2.4" width="11.2" height="10.2" fill="#2A2A2A"/><path d="M3.5 10.5L6 6L8 8.5L10.5 4.5L12.5 9" fill="none" stroke="#fff" stroke-width="1.1"/></svg>
<div class="t" style="left:169px;top:977.6px;font-size:12px;color:#1E1E1E;letter-spacing:0.33px">Profiler</div>
<svg style="left:223px;top:980px" width="4" height="7"><path d="M4 0V7L0 3.5Z" fill="#1E1E1E"/></svg>
<svg style="left:247.5px;top:980px" width="4" height="7"><path d="M0 0V7L4 3.5Z" fill="#1E1E1E"/></svg>
<div class="sep" style="left:263px;top:973px;height:20px"></div>
<div class="a" style="left:271.6px;top:978.5px;width:11px;height:10.3px;background:#2ECC2E"></div>
<div class="t" style="left:290px;top:977.6px;font-size:12px;letter-spacing:-0.3px">D...</div>
<div class="sep" style="left:318.5px;top:973px;height:20px"></div>
<svg style="left:325px;top:977px" width="14" height="13" viewBox="0 0 14 13"><path d="M7 0.5L13.5 12.5H0.5Z" fill="#F5C400" stroke="#E0B000" stroke-width="0.8" stroke-linejoin="round"/><rect x="6.2" y="4" width="1.6" height="4.8" fill="#1E1E1E"/><rect x="6.2" y="9.8" width="1.6" height="1.6" fill="#1E1E1E"/></svg>
<div class="t" style="left:345.5px;top:977.6px;font-size:12px;letter-spacing:-0.3px">Q...</div>
<div class="sep" style="left:374.4px;top:973px;height:20px"></div>
<div class="t" style="left:380.3px;top:977.6px;font-size:12px;letter-spacing:-0.6px">0:...</div>
<div class="sep" style="left:408.7px;top:973px;height:20px"></div>
<div class="t" style="left:416.5px;top:977.6px;font-size:12px;letter-spacing:-0.68px">JORDANSA\SQLEXPRESS (1...</div>
<div class="sep" style="left:579.4px;top:973px;height:20px"></div>
<div class="t" style="left:585.5px;top:977.6px;font-size:12px;letter-spacing:-0.36px">Jordan_Sanders</div>
<div class="sep" style="left:676px;top:973px;height:20px"></div>
<div class="t" style="left:682.3px;top:977.6px;font-size:12px;letter-spacing:0.55px">tempdb</div>
<div class="sep" style="left:733px;top:973px;height:20px"></div>
<div class="a" style="left:735px;top:971.9px;width:24px;height:22.9px;background:#007ACC"></div>
<div class="a" style="left:740.2px;top:976px;width:14.8px;height:14.7px;background:#F0F0F0;border:1.3px solid #3C3C3C"></div>
<div class="a" style="left:741.5px;top:983.5px;width:12.2px;height:5.9px;background:#2D2D2D"></div>
<div class="a" style="left:765.3px;top:976px;width:13.5px;height:14.7px;border:1.3px solid #5A5A5A"></div>
<svg style="left:792px;top:981.3px" width="8" height="4"><path d="M0 0H8L4 4Z" fill="#1E1E1E"/></svg>
<!-- status bar -->
<div class="a" style="left:1px;top:998.6px;width:814px;height:24.4px;background:#C4D8EC"></div>
<div class="a" style="left:2px;top:998.6px;width:812.3px;height:23.4px;background:#007ACC"></div>
<svg style="left:806px;top:1013px" width="8" height="8"><g fill="#5A8CB8"><rect x="6" y="0" width="1" height="1"/><rect x="4" y="2" width="1" height="1"/><rect x="6" y="2" width="1" height="1"/><rect x="2" y="4" width="1" height="1"/><rect x="4" y="4" width="1" height="1"/><rect x="6" y="4" width="1" height="1"/><rect x="0" y="6" width="1" height="1"/><rect x="2" y="6" width="1" height="1"/><rect x="4" y="6" width="1" height="1"/><rect x="6" y="6" width="1" height="1"/></g></svg>

<!--BOTTOM_END-->
<!-- window border -->
<div class="a" style="left:0;top:0;width:816px;height:1024px;border:1px solid #A7AAC0;border-right-width:1px"></div>
</body></html>
